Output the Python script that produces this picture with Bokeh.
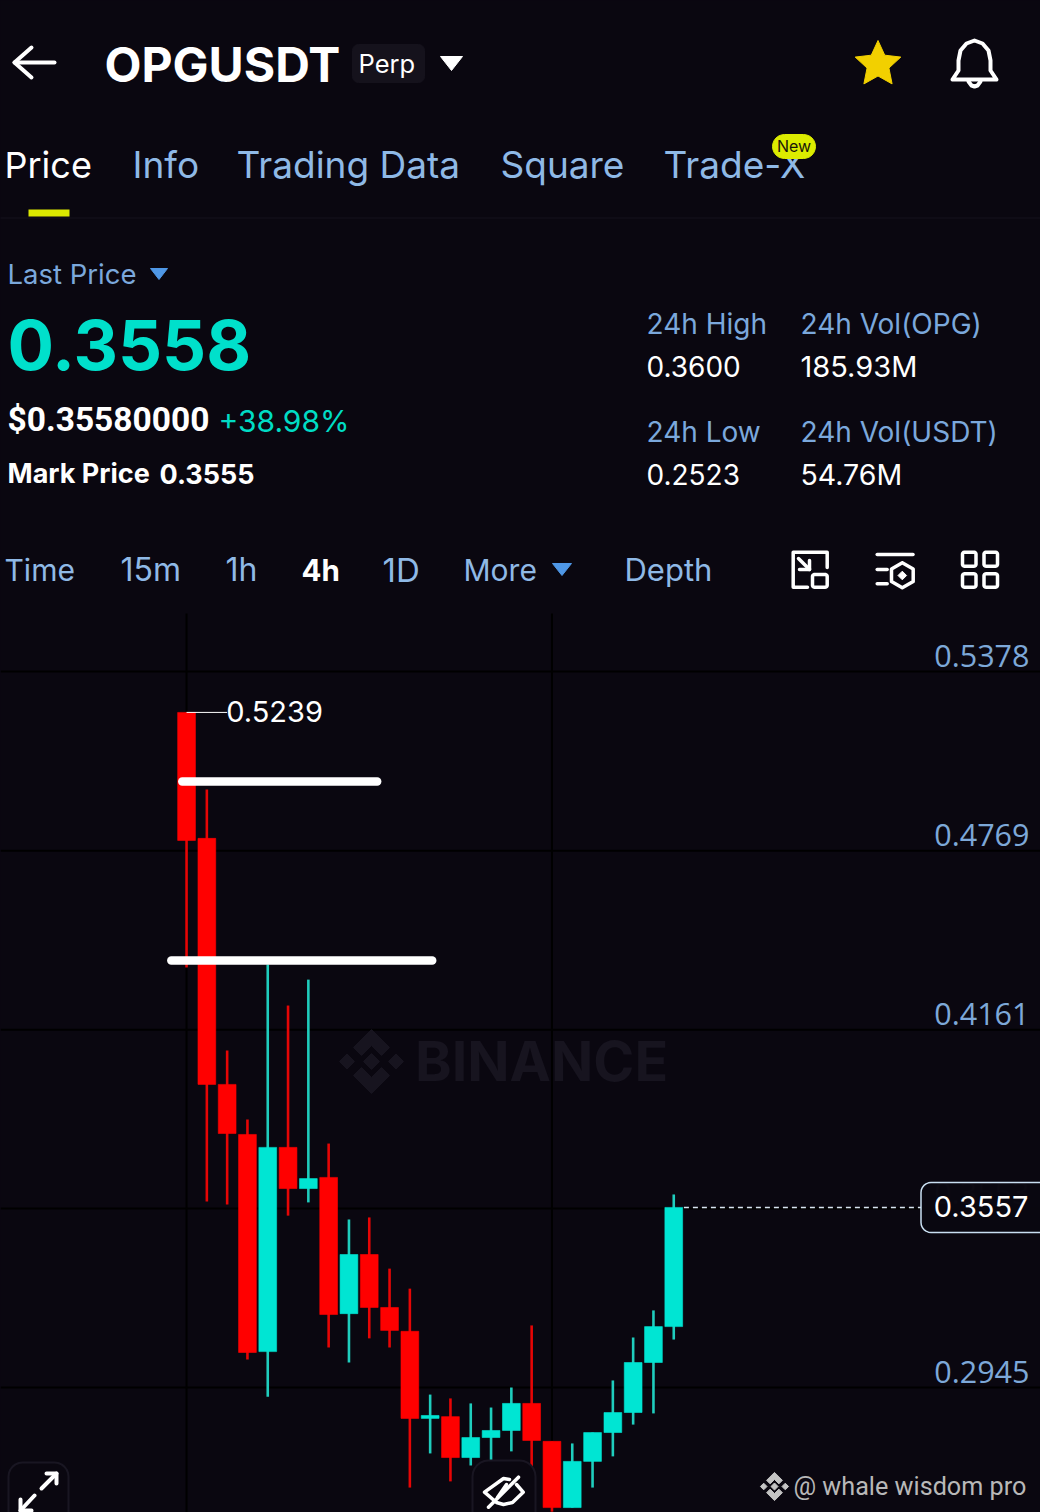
import math
from bokeh.plotting import figure
from bokeh.models import Range1d
from bokeh.core.properties import value
from bokeh.embed import file_html
from bokeh.resources import INLINE

# ---------- data ----------
opens  = [0.5239,0.4811,0.3975,0.3805,0.3067,0.3761,0.3621,0.3659,0.3196,0.3397,0.3217,0.3136,0.2840,
          0.2846,0.2707,0.2775,0.2799,0.2891,0.2762,0.2537,0.2694,0.2792,0.2860,0.3030,0.3152]
closes = [0.4804,0.3975,0.3808,0.3064,0.3761,0.3621,0.3655,0.3193,0.3397,0.3217,0.3139,0.2840,0.2850,
          0.2707,0.2775,0.2799,0.2891,0.2765,0.2537,0.2694,0.2792,0.2860,0.3030,0.3152,0.3557]
highs  = [0.5239,0.4977,0.4090,0.3856,0.4382,0.4243,0.4331,0.3774,0.3516,0.3523,0.3349,0.3281,0.2921,
          0.2908,0.2891,0.2877,0.2945,0.3156,0.2762,0.2755,0.2792,0.2969,0.3115,0.3207,0.3601]
lows   = [0.4372,0.3577,0.3567,0.3040,0.2914,0.3529,0.3574,0.3081,0.3030,0.3112,0.3081,0.2605,0.2721,
          0.2626,0.2680,0.2697,0.2728,0.2673,0.2523,0.2537,0.2605,0.2711,0.2819,0.2857,0.3108]
tick_values = [0.5378,0.4769,0.4161,0.3553,0.2945]
tick_labels = ["0.5378","0.4769","0.4161","0.3553","0.2945"]
x_grid_idx = [0,18]
last_price = 0.3557
high_mark = 0.5239
drawn_levels = [0.5004,0.4396]
drawn_start = [-0.21,-0.75]
drawn_end = [9.39,12.1]

BG="#0a0710"; RED="#ff0000"; TEAL="#00e5d3"; WTEAL="#1fcdbd"; BLUE="#8fb9e6"; WHITE="#ffffff"
W,H=1040,1512

p=figure(width=W,height=H,output_backend="svg",toolbar_location=None,
         x_axis_type=None,y_axis_type=None,
         x_range=Range1d(-9.165,42.066),y_range=Range1d(0.25203,0.76581),
         background_fill_color=BG,border_fill_color=BG,outline_line_color=None,min_border=0)
p.grid.visible=False
p.extra_x_ranges={"px":Range1d(1,W+1)}
p.extra_y_ranges={"px":Range1d(H+1,1)}
PX=dict(x_range_name="px",y_range_name="px")

def t(x,y,s,size,color=WHITE,weight="normal",align="left",font="Inter"):
    p.text([x],[y],text=[s],text_font=value(font),text_font_size=f"{size}px",text_color=color,
           text_font_style=weight,text_align=align,text_baseline="middle",**PX)
def line(xs,ys,color=WHITE,width=4,dash=None,alpha=1.0):
    kw={}
    if dash: kw["line_dash"]=dash
    p.line(xs,ys,line_color=color,line_width=width,line_cap="round",line_join="round",line_alpha=alpha,**PX,**kw)
def poly(xs,ys,color):
    p.patch(xs,ys,fill_color=color,line_color=color,line_width=1,line_join="round",**PX)
def rr_pts(x0,y0,x1,y1,r):
    xs,ys=[],[]
    for cx,cy,a0 in [(x1-r,y0+r,-90),(x1-r,y1-r,0),(x0+r,y1-r,90),(x0+r,y0+r,180)]:
        for k in range(7):
            a=math.radians(a0+15*k)
            xs.append(cx+r*math.cos(a)); ys.append(cy+r*math.sin(a))
    xs.append(xs[0]); ys.append(ys[0])
    return xs,ys
def rrect(x0,y0,x1,y1,r,fill=None,stroke=None,width=1,fill_alpha=1.0):
    xs,ys=rr_pts(x0,y0,x1,y1,r)
    p.patch(xs,ys,fill_color=fill if fill else BG,fill_alpha=fill_alpha if fill else 0,
            line_color=stroke,line_width=width,**PX)
def logo(cx,cy,s,color):
    for dx,dy,h in [(0,0,8),(-24.5,0,7.5),(24.5,0,7.5)]:
        poly([cx+(dx-h)*s,cx+dx*s,cx+(dx+h)*s,cx+dx*s],[cy,cy-h*s,cy,cy+h*s],color)
    for sg in (-1,1):
        pts=[(0,32),(18,14),(10,6),(0,16),(-10,6),(-18,14)]
        poly([cx+a*s for a,b in pts],[cy+sg*b*s for a,b in pts],color)

# ---------- chart ----------
top_price=0.5575; bot_price=0.25203
p.segment(x_grid_idx,[top_price]*2,x_grid_idx,[bot_price]*2,line_color="#000000",line_width=2,level="underlay")
p.segment([-9.165]*5,tick_values,[42.066]*5,tick_values,line_color="#000000",line_width=2,level="underlay")
logo(372,1062,1.0,"#17141f")
t(415.5,1061,"BINANCE",55.5,"#17141f","bold")

idx=list(range(len(opens)))
cols=[TEAL if c>=o else RED for o,c in zip(opens,closes)]
wcols=[WTEAL if c>=o else "#e60505" for o,c in zip(opens,closes)]
p.segment(idx,highs,idx,lows,line_color=wcols,line_width=2.6)
p.vbar(x=idx,bottom=[min(o,c) for o,c in zip(opens,closes)],top=[max(o,c) for o,c in zip(opens,closes)],
       width=0.875,fill_color=cols,line_color=cols,line_width=0.6)

# drawn white strokes
p.segment(drawn_start,drawn_levels,drawn_end,drawn_levels,line_color=WHITE,line_width=8.5,line_cap="round")

# high marker
p.line([0,2.0],[high_mark,high_mark],line_color=WHITE,line_width=1)
p.text([2.0],[high_mark],text=[f"{high_mark:.4f}"],x_offset=-1,y_offset=-1,text_font=value("Inter"),text_font_size="29px",
       text_color=WHITE,text_baseline="middle")

# y labels
p.text(x=[1030]*5,y=tick_values,text=tick_labels,x_range_name="px",y_offset=-16,text_font=value("Open Sans"),
       text_font_size="30.5px",text_color=["#7da8d8"]*3+["#2a2a38"]+["#7da8d8"],text_align="right",text_baseline="middle")

# last price
p.line([24.5,36.2],[last_price,last_price],line_color="#d8e4f0",line_width=1.5,line_dash="5 4")
rrect(921.5,1183,1061,1233,10,fill=BG,stroke="#c9dff2",width=1.5,fill_alpha=0.93)
p.text([1029],[last_price],text=[f"{last_price:.4f}"],x_range_name="px",text_font=value("Inter"),y_offset=-1,
       text_font_size="29px",text_color=WHITE,text_align="right",text_baseline="middle")

# ---------- header ----------
line([15,55],[63,63]); line([32,15,32],[48,63,78])
t(105,65,"OPGUSDT",48,WHITE,"bold")
rrect(353,45,425,83,6,fill="#15121c",stroke="#15121c")
t(359,64,"Perp",25.5)
poly([441,463,452],[57,57,71],WHITE)
pts=[(24 if i%2==0 else 11.5,math.radians(-90+36*i)) for i in range(10)]
poly([878.5+r*math.cos(a) for r,a in pts],[65+r*math.sin(a) for r,a in pts],"#f2d000")
line([953,959,959,961,967,975,983,989,991,991,997,953],[80,71,61,51,44,41,44,51,61,71,80,80],WHITE,4)
line([969,972,975,978,981],[82,86,87,86,82],WHITE,4)

tabs=[("Price",5,WHITE,36),("Info",133,BLUE,37),("Trading Data",237,BLUE,37),("Square",501,BLUE,37),("Trade-X",664,BLUE,37)]
for s,x,c,z in tabs:
    t(x,165,s,z,c)
rrect(773,135,816,159,12,fill="#dcec00",stroke="#dcec00")
t(794.5,146.5,"New",16,"#1a1608","normal","center")
p.quad(left=[29],right=[70],top=[210],bottom=[217],fill_color="#dbe800",line_color=None,**PX)
line([0,1041],[218.5,218.5],"#15121c",1)

# ---------- price block ----------
t(8,274,"Last Price",27.5,"#7ba8dc")
poly([151,168,159.5],[269,269,280],"#4f97e6")
t(8,345,"0.3558",69,"#00e0cb","bold")
t(8,420,"$0.35580000",33.5,WHITE,"bold",font="Roboto")
t(219,421,"+38.98%",30,"#00dcc4")
t(8,474,"Mark Price",27,WHITE,"bold")
t(160,474,"0.3555",27,WHITE,"bold")
for x,y,a,b,z in [(647,324,"24h High","0.3600",28),(801,324,"24h Vol(OPG)","185.93M",29),
                  (647,432,"24h Low","0.2523",28),(801,432,"24h Vol(USDT)","54.76M",28.5)]:
    t(x,y,a,28,"#7ba8dc")
    t(x,y+43,b,z,WHITE)

# ---------- interval bar ----------
for s,x,c,w,z in [("Time",5,BLUE,"normal",30),("15m",121,BLUE,"normal",32),("1h",226,BLUE,"normal",32),
                  ("4h",302,WHITE,"bold",29.5),("1D",383,BLUE,"normal",33),("More",464,BLUE,"normal",30),
                  ("Depth",625,BLUE,"normal",31)]:
    t(x,570,s,z,c,w)
poly([553,572,562.5],[564,564,576],"#4f97e6")
# icon 1
line([808,793.7,793.7,827.7,827.7],[587.7,587.7,552.7,552.7,568],WHITE,3.5)
rrect(813,575,827.7,587.7,2,stroke=WHITE,width=3.5)
line([799,810],[559,570],WHITE,3.5); line([810,810,800],[561,570,570],WHITE,3.5)
# icon 2
line([877.7,913.5],[555,555],WHITE,3.5); line([877.7,887.7],[570,570],WHITE,3.5); line([877.7,887.7],[584.3,584.3],WHITE,3.5)
line([902.8,913.7,913.7,902.8,892,892,902.8],[563.3,569.5,582,588.3,582,569.5,563.3],WHITE,3.5)
poly([898.5,902.8,907.1,902.8],[576,571.7,576,580.3],WHITE)
# icon 3
for x0 in (963,984.5):
    for y0,y1 in ((552.7,566.7),(574.3,587.7)):
        rrect(x0,y0,x0+13.5,y1,2,stroke=WHITE,width=3.5)

# ---------- bottom ----------
rrect(9,1463,69,1531,14,fill=BG,stroke="#191622",width=2)
line([42,57],[1489,1474]); line([47,57,57],[1474,1474,1484])
line([35,21],[1496,1511]); line([21,21,32],[1500,1511,1511])
rrect(473,1461,536,1531,16,fill=BG,stroke="#191622",width=2)
line([510,504,485,497,504,513,523.7,517],[1480,1479,1492.7,1503,1505,1503,1492.7,1485],WHITE,3.5)
line([489,519],[1507.7,1477.7],WHITE,3.5); line([498,507],[1498,1485],WHITE,3.5)
logo(775,1487,0.44,"#c4c4c4")
t(794,1487,"@ whale wisdom pro",25.2,"#b8b8b8",font="Roboto")

html=file_html(p,INLINE,title="OPGUSDT")
html=html.replace("</head>",f"<style>html,body{{margin:0;padding:0;overflow:hidden;background:{BG}}}</style></head>",1)
open("out.html","w").write(html)
